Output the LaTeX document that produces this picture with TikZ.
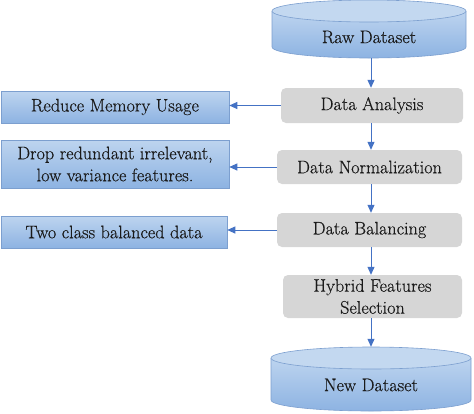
\documentclass[tikz,border=0pt]{standalone}
\usepackage{fontspec}
\newfontfamily\lmthick{Latin Modern Roman}[FakeBold=0.4]
\usetikzlibrary{arrows.meta}
\definecolor{arrowblue}{HTML}{4472C4}
\definecolor{boxgray}{HTML}{D6D6D6}
\definecolor{bluetop}{HTML}{BDD4EF}
\definecolor{bluebot}{HTML}{8DB3E2}
\definecolor{blueline}{HTML}{7C9FCF}
\definecolor{cyltopc}{HTML}{C3D8F0}
\definecolor{txt}{HTML}{1A1A1A}
\begin{document}
\begin{tikzpicture}[x=1pt,y=-1pt,
  lbl/.style={font=\lmthick\fontsize{18.2}{22}\selectfont, text=txt, align=center, inner sep=0pt},
  graybox/.style={lbl, fill=boxgray, rounded corners=5pt},
  bluebox/.style={lbl, draw=blueline, line width=0.6pt, top color=bluetop, bottom color=bluebot},
  cylbody/.style={top color=bluetop, bottom color=bluebot},
  cyltopst/.style={fill=cyltopc},
  cylline/.style={draw=blueline, line width=0.6pt},
  link/.style={draw=arrowblue, line width=1pt, -{Triangle[length=8pt,width=7pt]}}]
\useasboundingbox (0,0) rectangle (474,413);

% Raw Dataset cylinder
\path[cylbody] (272,11) -- (272,47) arc[start angle=180,end angle=360,x radius=97pt,y radius=11pt] -- (466,11) -- cycle;
\draw[cylline] (272,11) -- (272,47) arc[start angle=180,end angle=360,x radius=97pt,y radius=11pt] -- (466,11);
\path[cyltopst,cylline] (369,11) ellipse[x radius=97pt,y radius=11pt];
\node[lbl, minimum width=194pt, minimum height=42pt] (raw) at (369,37) {Raw Dataset};

% New Dataset cylinder
\path[cylbody] (271,358) -- (271,400) arc[start angle=180,end angle=360,x radius=100pt,y radius=11pt] -- (471,358) -- cycle;
\draw[cylline] (271,358) -- (271,400) arc[start angle=180,end angle=360,x radius=100pt,y radius=11pt] -- (471,358);
\path[cyltopst,cylline] (371,358) ellipse[x radius=100pt,y radius=11pt];
\node[lbl, minimum width=200pt, minimum height=76pt] (new) at (371,385) {New Dataset};

% Process boxes
\node[graybox, minimum width=182pt, minimum height=35pt] (da) at (372,105.5) {Data Analysis};
\node[graybox, minimum width=185pt, minimum height=34pt] (dn) at (369.5,167) {Data Normalization};
\node[graybox, minimum width=185pt, minimum height=34pt] (db) at (369.5,230) {Data Balancing};
\node[graybox, minimum width=179pt, minimum height=43pt] (hfs) at (372.5,296.5) {Hybrid Features\\Selection};

% Result boxes
\node[bluebox, minimum width=228pt, minimum height=32pt] (rmu) at (115,107) {Reduce Memory Usage};
\node[bluebox, minimum width=228pt, minimum height=48pt] (drop) at (115,164) {Drop redundant irrelevant,\\low variance features.};
\node[bluebox, minimum width=226pt, minimum height=32pt] (two) at (114,232) {Two class balanced data};

% Vertical flow
\draw[link] (raw.south -| 371,0) -- (da.north -| 371,0);
\draw[link] (da.south -| 371,0) -- (dn.north -| 371,0);
\draw[link] (dn.south -| 371,0) -- (db.north -| 371,0);
\draw[link] (db.south -| 371,0) -- (hfs.north -| 371,0);
\draw[link] (hfs.south -| 371,0) -- (new.north -| 371,0);

% Side outputs
\draw[link] (da.west) -- (rmu.east |- da.west);
\draw[link] (dn.west) -- (drop.east |- dn.west);
\draw[link] (db.west) -- (two.east |- db.west);
\end{tikzpicture}
\end{document}
